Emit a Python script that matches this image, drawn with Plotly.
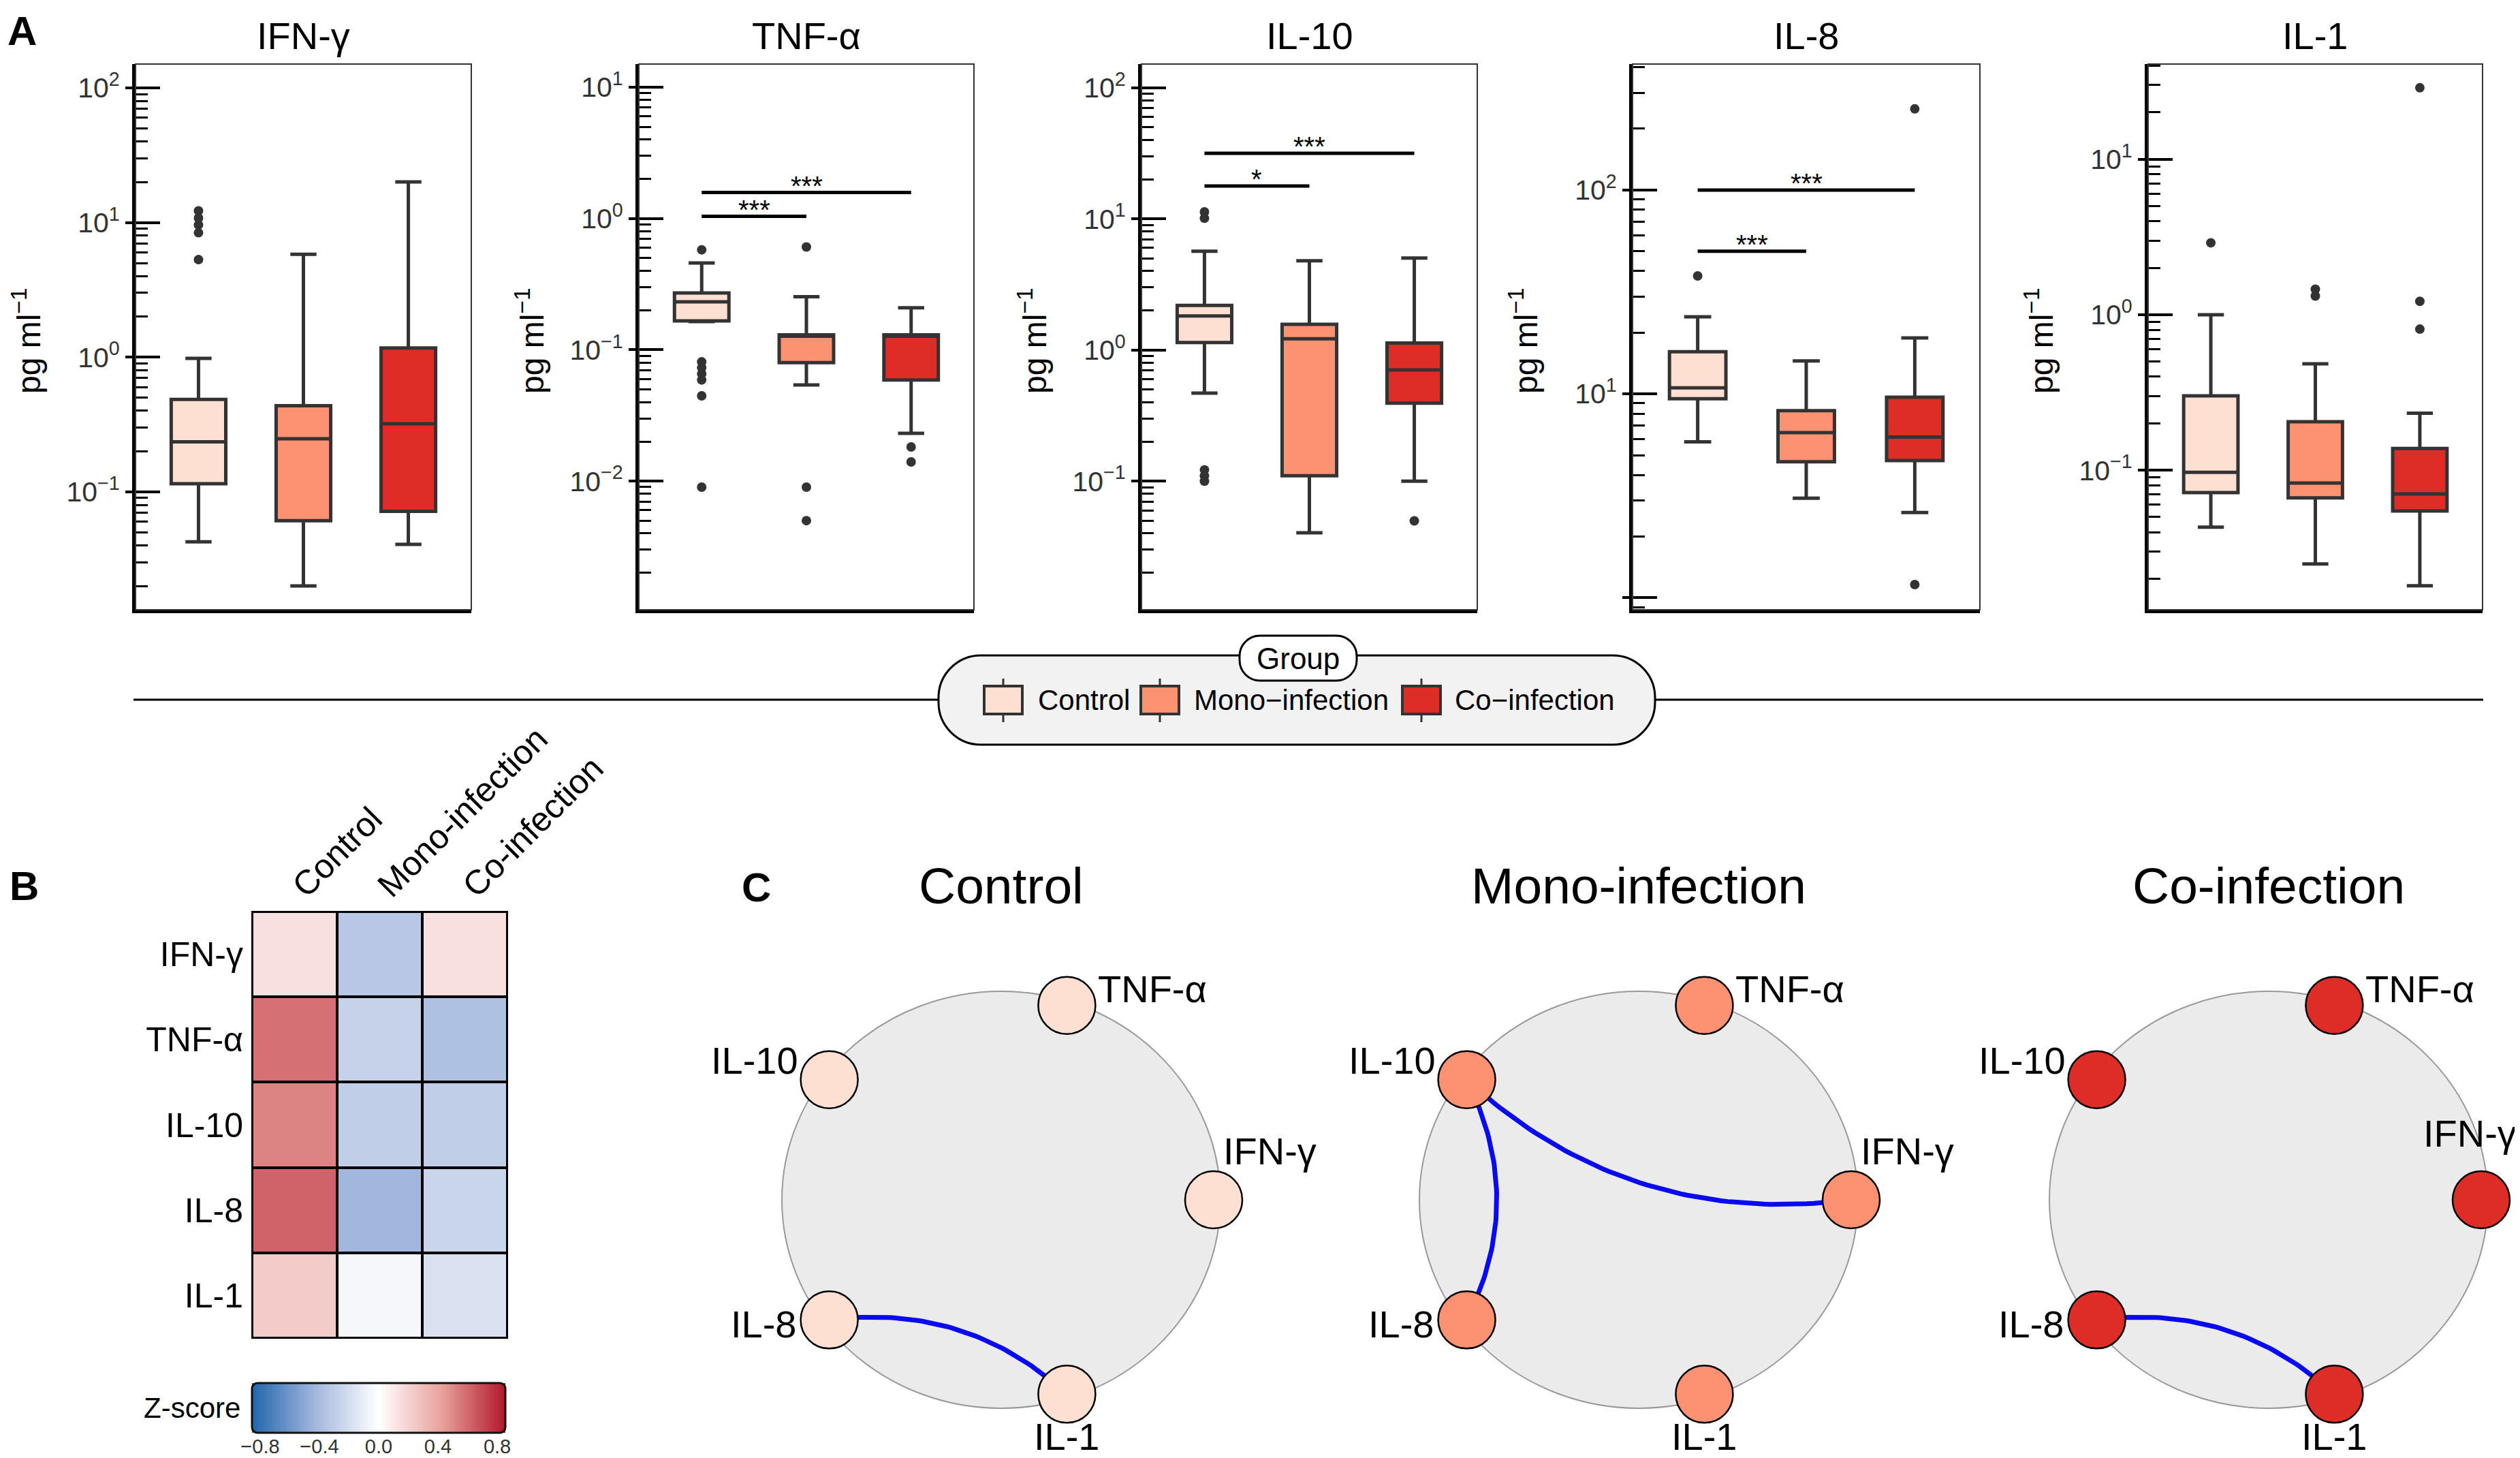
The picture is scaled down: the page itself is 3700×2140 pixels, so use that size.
import numpy as np
import plotly.graph_objects as go

W, H = 3700, 2140
FONT = "Liberation Sans, Arial, Helvetica, sans-serif"
INK = "#333333"

# ---------------- data ----------------
groups = ["Control", "Mono-infection", "Co-infection"]
group_colors = ["#FEE0D2", "#FC9272", "#DE2D26"]
cytokines = ["IFN-γ", "TNF-α", "IL-10", "IL-8", "IL-1"]

# Panel A: [lower whisker, Q1, median, Q3, upper whisker] per group (pg/ml)
ifng_stats = [[0.0425, 0.115, 0.235, 0.485, 0.98],
              [0.020, 0.061, 0.248, 0.436, 5.8],
              [0.0407, 0.0716, 0.32, 1.17, 20.0]]
ifng_out = [[12.2, 10.8, 9.6, 8.4, 5.3], [], []]
ifng_sig = []

tnfa_stats = [[0.164, 0.166, 0.232, 0.271, 0.459],
              [0.054, 0.080, 0.127, 0.130, 0.254],
              [0.0231, 0.059, 0.127, 0.130, 0.209]]
tnfa_out = [[0.578, 0.081, 0.073, 0.0656, 0.059, 0.0446, 0.009],
            [0.608, 0.009, 0.005],
            [0.0182, 0.014]]
tnfa_sig = [(0, 1, 1.04, "***"), (0, 2, 1.58, "***")]

il10_stats = [[0.469, 1.14, 1.82, 2.19, 5.66],
              [0.0404, 0.110, 1.22, 1.57, 4.79],
              [0.100, 0.393, 0.704, 1.13, 5.03]]
il10_out = [[11.3, 10.1, 0.122, 0.110, 0.100], [], [0.0499]]
il10_sig = [(0, 1, 17.8, "*"), (0, 2, 31.6, "***")]

il8_stats = [[5.82, 9.47, 10.7, 16.1, 23.9],
             [3.08, 4.65, 6.46, 8.27, 14.5],
             [2.62, 4.71, 6.14, 9.64, 18.8]]
il8_out = [[37.9], [], [250.0, 1.16]]
il8_sig = [(0, 1, 50.1, "***"), (0, 2, 100.0, "***")]

il1_stats = [[0.0431, 0.0718, 0.097, 0.301, 1.0],
             [0.025, 0.0665, 0.0827, 0.205, 0.483],
             [0.0181, 0.0547, 0.0705, 0.138, 0.233]]
il1_out = [[2.90], [1.46, 1.32], [28.8, 1.22, 0.808]]
il1_sig = []

# Panel B: z-scores (rows = cytokines, cols = groups)
zscores = [[0.14, -0.33, 0.14],
           [0.58, -0.27, -0.37],
           [0.52, -0.29, -0.29],
           [0.62, -0.43, -0.25],
           [0.23, -0.045, -0.17]]
z_ticks = [-0.8, -0.4, 0.0, 0.4, 0.8]
Z_LIM = 0.855

# Panel C: correlation networks
node_order = ["IFN-γ", "TNF-α", "IL-10", "IL-8", "IL-1"]
net_edges = {"Control": [("IL-8", "IL-1")],
             "Mono-infection": [("IL-10", "IFN-γ"), ("IL-10", "IL-8")],
             "Co-infection": [("IL-8", "IL-1")]}

# ---------------- helpers ----------------
OFF = 8  # page body margin of the html document


def px_x(x):
    return (x - OFF) / W


def px_y(y):
    return 1 - (y - OFF) / H


def axkey(kind, n):
    return f"{kind}axis" if n == 1 else f"{kind}axis{n}"


def axref(kind, n):
    return kind if n == 1 else f"{kind}{n}"


def sup_label(e):
    return "10<sup>" + str(e).replace("-", "−") + "</sup>"


def rounded_path(x0, y0, x1, y1, r):
    k = 0.5523 * r

    def P(x, y):
        return f"{px_x(x):.6f},{px_y(y):.6f}"
    return (f"M {P(x0 + r, y0)} L {P(x1 - r, y0)} "
            f"C {P(x1 - r + k, y0)} {P(x1, y0 + r - k)} {P(x1, y0 + r)} "
            f"L {P(x1, y1 - r)} "
            f"C {P(x1, y1 - r + k)} {P(x1 - r + k, y1)} {P(x1 - r, y1)} "
            f"L {P(x0 + r, y1)} "
            f"C {P(x0 + r - k, y1)} {P(x0, y1 - r + k)} {P(x0, y1 - r)} "
            f"L {P(x0, y0 + r)} "
            f"C {P(x0, y0 + r - k)} {P(x0 + r - k, y0)} {P(x0 + r, y0)} Z")


fig = go.Figure()
annotations = []
shapes = []
layout = {}

# ---------------- Panel A ----------------
box_panels = [
    ("IFN-γ", ifng_stats, ifng_out, ifng_sig, [-1.876, 2.177], [-1, 0, 1, 2], [-1, 0, 1, 2], (199, 692)),
    ("TNF-α", tnfa_stats, tnfa_out, tnfa_sig, [-2.98, 1.177], [-2, -1, 0, 1], [-2, -1, 0, 1], (938, 1430)),
    ("IL-10", il10_stats, il10_out, il10_sig, [-1.98, 2.18], [-1, 0, 1, 2], [-1, 0, 1, 2], (1676, 2169)),
    ("IL-8", il8_stats, il8_out, il8_sig, [-0.059, 2.618], [0, 1, 2], [1, 2], (2397, 2907)),
    ("IL-1", il1_stats, il1_out, il1_sig, [-1.897, 1.612], [-1, 0, 1], [-1, 0, 1], (3154, 3645)),
]
A_TOP, A_BOT = 94, 895

for i, (title, stats, outs, sig, yr, majors, labeled, (x0, x1)) in enumerate(box_panels):
    n = i + 1
    xr, yrf, yov = axref("x", n), axref("y", n), axref("y", 5 + n)
    for g in range(3):
        lo, q1, med, q3, hi = stats[g]
        fig.add_trace(go.Box(x=[g], lowerfence=[lo], q1=[q1], median=[med], q3=[q3],
                             upperfence=[hi], width=0.52, whiskerwidth=0.48,
                             fillcolor=group_colors[g], line=dict(color=INK, width=5),
                             boxpoints=False, xaxis=xr, yaxis=yrf, hoverinfo="skip",
                             showlegend=False))
        if outs[g]:
            fig.add_trace(go.Scatter(x=[g] * len(outs[g]), y=outs[g], mode="markers",
                                     marker=dict(color=INK, size=14), xaxis=xr, yaxis=yrf,
                                     showlegend=False, hoverinfo="skip"))
    for (a, b, lvl, txt) in sig:
        fig.add_trace(go.Scatter(x=[a, b], y=[lvl, lvl], mode="lines",
                                 line=dict(color="black", width=5), xaxis=xr, yaxis=yrf,
                                 showlegend=False, hoverinfo="skip"))
        annotations.append(dict(x=(a + b) / 2, y=np.log10(lvl), xref=xr, yref=yrf, text=txt,
                                showarrow=False, yanchor="bottom", yshift=-14,
                                font=dict(size=40, color="black", family=FONT)))
    # invisible trace for the overlaid tick axis
    fig.add_trace(go.Scatter(x=[None], y=[None], xaxis=xr, yaxis=yov, showlegend=False,
                             hoverinfo="skip"))
    minor = [k * 10.0 ** e for e in range(-4, 4) for k in range(2, 10)
             if yr[0] <= np.log10(k * 10.0 ** e) <= yr[1]]
    majv = [10.0 ** e for e in majors]
    majt = [sup_label(e) if e in labeled else "" for e in majors]
    layout[axkey("x", n)] = dict(domain=[px_x(x0), px_x(x1)], range=[-0.6, 2.6], anchor=yrf,
                                 showline=True, linewidth=5, linecolor="black", ticks="",
                                 showticklabels=False, showgrid=False, zeroline=False,
                                 automargin=False)
    layout[axkey("y", n)] = dict(domain=[px_y(A_BOT), px_y(A_TOP)], type="log", range=yr,
                                 anchor=xr, showline=True, linewidth=5, linecolor="black",
                                 tickmode="array", tickvals=majv, ticktext=majt,
                                 ticks="outside", ticklen=10, tickwidth=4, tickcolor="black",
                                 tickfont=dict(size=41, color=INK, family=FONT),
                                 minor=dict(tickmode="array", tickvals=minor, ticks="inside",
                                            ticklen=18, tickwidth=3, tickcolor="black",
                                            showgrid=False),
                                 showgrid=False, zeroline=False, automargin=False)
    layout[axkey("y", 5 + n)] = dict(overlaying=yrf, anchor=xr, side="left", type="log",
                                     range=yr, tickmode="array", tickvals=majv, ticks="inside",
                                     ticklen=36, tickwidth=4, tickcolor="black",
                                     showticklabels=False, showline=False, showgrid=False,
                                     zeroline=False, automargin=False)
    shapes.append(dict(type="rect", xref=f"{xr} domain", yref=f"{yrf} domain", x0=0, x1=1,
                       y0=0, y1=1, line=dict(color=INK, width=2), fillcolor="rgba(0,0,0,0)"))
    annotations.append(dict(x=px_x((x0 + x1) / 2), y=px_y(52), xref="paper", yref="paper",
                            text=title, showarrow=False, xanchor="center", yanchor="middle",
                            font=dict(size=56, color="black", family=FONT)))
    annotations.append(dict(x=px_x(x0 - 160), y=px_y(500), xref="paper", yref="paper",
                            text="pg ml<sup>−1</sup>", textangle=-90, showarrow=False,
                            xanchor="center", yanchor="middle",
                            font=dict(size=48, color="black", family=FONT)))

# ---------------- legend (Group) ----------------
shapes.append(dict(type="line", xref="paper", yref="paper", x0=px_x(196), x1=px_x(3646),
                   y0=px_y(1027), y1=px_y(1027), line=dict(color="black", width=3)))
shapes.append(dict(type="path", xref="paper", yref="paper",
                   path=rounded_path(1378, 962, 2430, 1093, 62),
                   fillcolor="#F2F2F2", line=dict(color="black", width=3)))
shapes.append(dict(type="path", xref="paper", yref="paper",
                   path=rounded_path(1820, 933, 1992, 999, 30),
                   fillcolor="white", line=dict(color="black", width=3)))
annotations.append(dict(x=px_x(1906), y=px_y(966), xref="paper", yref="paper", text="Group",
                        showarrow=False, xanchor="center", yanchor="middle",
                        font=dict(size=44, color="black", family=FONT)))
key_centers = [1473, 1703, 2087]
text_starts = [1522, 1751, 2134]
for g in range(3):
    kc = key_centers[g]
    shapes.append(dict(type="line", xref="paper", yref="paper", x0=px_x(kc), x1=px_x(kc),
                       y0=px_y(996), y1=px_y(1060), line=dict(color=INK, width=3)))
    shapes.append(dict(type="rect", xref="paper", yref="paper", x0=px_x(kc - 28),
                       x1=px_x(kc + 28), y0=px_y(1048), y1=px_y(1007),
                       fillcolor=group_colors[g], line=dict(color=INK, width=4)))
    annotations.append(dict(x=px_x(text_starts[g]), y=px_y(1027), xref="paper", yref="paper",
                            text=groups[g].replace("-", "−"), showarrow=False,
                            xanchor="left", yanchor="middle",
                            font=dict(size=42, color="black", family=FONT)))

# ---------------- Panel B: heatmap ----------------
zscale = [[0.0, "#2166AC"], [0.25, "#A3B7DD"], [0.5, "#FFFFFF"],
          [0.75, "#E8A19C"], [1.0, "#B2182B"]]
fig.add_trace(go.Heatmap(
    z=zscores, x=groups, y=cytokines, colorscale=zscale, zmin=-Z_LIM, zmax=Z_LIM,
    xgap=4, ygap=4, xaxis="x6", yaxis="y11", hoverinfo="skip", showscale=False))
layout["xaxis6"] = dict(domain=[px_x(370), px_x(745)], anchor="y11", side="top", tickangle=-45,
                        tickfont=dict(size=50, color="black", family=FONT), ticks="",
                        showgrid=False, zeroline=False, showline=False, automargin=False)
layout["yaxis11"] = dict(domain=[px_y(1964), px_y(1338)], anchor="x6", autorange="reversed",
                         tickfont=dict(size=50, color="black", family=FONT), ticks="",
                         ticklabelstandoff=12, showgrid=False, zeroline=False,
                         showline=False, automargin=False)
shapes.append(dict(type="rect", xref="x6 domain", yref="y11 domain", x0=0, x1=1, y0=0, y1=1,
                   fillcolor="black", line=dict(width=0), layer="below"))
shapes.append(dict(type="rect", xref="x6 domain", yref="y11 domain", x0=0, x1=1, y0=0, y1=1,
                   fillcolor="rgba(0,0,0,0)", line=dict(color="black", width=2)))

# colour key drawn as a gradient strip on its own axis
grad = np.linspace(-Z_LIM, Z_LIM, 300)
fig.add_trace(go.Heatmap(z=[grad], x=grad, y=[0], colorscale=zscale, zmin=-Z_LIM, zmax=Z_LIM,
                         xaxis="x10", yaxis="y16", hoverinfo="skip", showscale=False))
layout["xaxis10"] = dict(domain=[px_x(370), px_x(742)], anchor="y16", range=[-Z_LIM, Z_LIM],
                         tickmode="array", tickvals=z_ticks,
                         ticktext=[f"{v:.1f}".replace("-", "−") for v in z_ticks],
                         tickfont=dict(size=29, color=INK, family=FONT), ticks="",
                         showgrid=False, zeroline=False, showline=False, automargin=False)
layout["yaxis16"] = dict(domain=[px_y(2103), px_y(2030)], anchor="x10", range=[-0.5, 0.5],
                         visible=False, automargin=False)
shapes.append(dict(type="path", xref="paper", yref="paper",
                   path=rounded_path(370, 2030, 742, 2103, 8),
                   fillcolor="rgba(0,0,0,0)", line=dict(color="#111111", width=3)))
annotations.append(dict(x=px_x(355), y=px_y(2066), xref="paper", yref="paper", text="Z-score",
                        showarrow=False, xanchor="right", yanchor="middle",
                        font=dict(size=42, color="black", family=FONT)))

# ---------------- Panel C: networks ----------------
angles = 2 * np.pi * np.arange(len(node_order)) / len(node_order)
node_xy = {nm: (np.cos(a), np.sin(a)) for nm, a in zip(node_order, angles)}


def bezier(p0, p2, k=0.24, n=60):
    p0, p2 = np.array(p0), np.array(p2)
    m = (p0 + p2) / 2
    d = p2 - p0
    L = np.hypot(d[0], d[1])
    nv = np.array([-d[1], d[0]]) / L
    if np.dot(nv, -m) < 0:
        nv = -nv
    c = m + k * L * nv
    t = np.linspace(0, 1, n)[:, None]
    pts = (1 - t) ** 2 * p0 + 2 * t * (1 - t) * c + t ** 2 * p2
    return pts[:, 0], pts[:, 1]


net_centers = [1470, 2406, 3331]
NET_CY = 1761
PXU_X, PXU_Y = 312, 300
XR, YR = 1.15, 1.2
label_cfg = {
    "TNF-α": dict(xanchor="left", xshift=44, yshift=24),
    "IL-10": dict(xanchor="right", xshift=-44, yshift=28),
    "IFN-γ": dict(xanchor="left", xshift=12, yshift=72),
    "IL-8": dict(xanchor="right", xshift=-46, yshift=-6),
    "IL-1": dict(xanchor="center", xshift=0, yshift=-62),
}
label_override = {("Co-infection", "IFN-γ"): dict(xanchor="right", xshift=54, yshift=98)}

for j, grp in enumerate(groups):
    xn, yn = 7 + j, 12 + j
    xr, yrf = axref("x", xn), axref("y", yn)
    cx = net_centers[j]
    layout[axkey("x", xn)] = dict(domain=[px_x(cx - XR * PXU_X), px_x(cx + XR * PXU_X)],
                                  range=[-XR, XR], anchor=yrf, visible=False, automargin=False)
    layout[axkey("y", yn)] = dict(domain=[px_y(NET_CY + YR * PXU_Y), px_y(NET_CY - YR * PXU_Y)],
                                  range=[-YR, YR], anchor=xr, visible=False, automargin=False)
    shapes.append(dict(type="circle", xref=xr, yref=yrf, x0=-1.032, x1=1.032, y0=-1.02,
                       y1=1.02, fillcolor="#EBEBEB", line=dict(color="#999999", width=2),
                       layer="below"))
    for (a, b) in net_edges[grp]:
        ex, ey = bezier(node_xy[a], node_xy[b])
        fig.add_trace(go.Scatter(x=ex, y=ey, mode="lines", line=dict(color="#0A0AF0", width=7),
                                 xaxis=xr, yaxis=yrf, showlegend=False, hoverinfo="skip",
                                 cliponaxis=False))
    nx = [node_xy[nm][0] for nm in node_order]
    ny = [node_xy[nm][1] for nm in node_order]
    fig.add_trace(go.Scatter(x=nx, y=ny, mode="markers",
                             marker=dict(size=84, color=group_colors[j],
                                         line=dict(color="black", width=2.5)),
                             xaxis=xr, yaxis=yrf, showlegend=False, hoverinfo="skip",
                             cliponaxis=False))
    for nm in node_order:
        cfg = label_override.get((grp, nm), label_cfg[nm])
        annotations.append(dict(x=node_xy[nm][0], y=node_xy[nm][1], xref=xr, yref=yrf,
                                text=nm, showarrow=False, yanchor="middle",
                                font=dict(size=56, color="black", family=FONT), **cfg))
    annotations.append(dict(x=px_x(cx), y=px_y(1300), xref="paper", yref="paper", text=grp,
                            showarrow=False, xanchor="center", yanchor="middle",
                            font=dict(size=75, color="black", family=FONT)))

# ---------------- panel letters ----------------
for letter, (lx, ly) in {"A": (32, 46), "B": (35, 1300), "C": (1110, 1302)}.items():
    annotations.append(dict(x=px_x(lx), y=px_y(ly), xref="paper", yref="paper",
                            text=f"<b>{letter}</b>", showarrow=False, xanchor="center",
                            yanchor="middle", font=dict(size=60, color="black", family=FONT)))

fig.update_layout(width=W, height=H, margin=dict(l=0, r=0, t=0, b=0, autoexpand=False),
                  paper_bgcolor="white", plot_bgcolor="rgba(0,0,0,0)", showlegend=False,
                  boxmode="overlay", annotations=annotations, shapes=shapes,
                  font=dict(family=FONT, color="black"), **layout)
fig.write_html("out.html")
